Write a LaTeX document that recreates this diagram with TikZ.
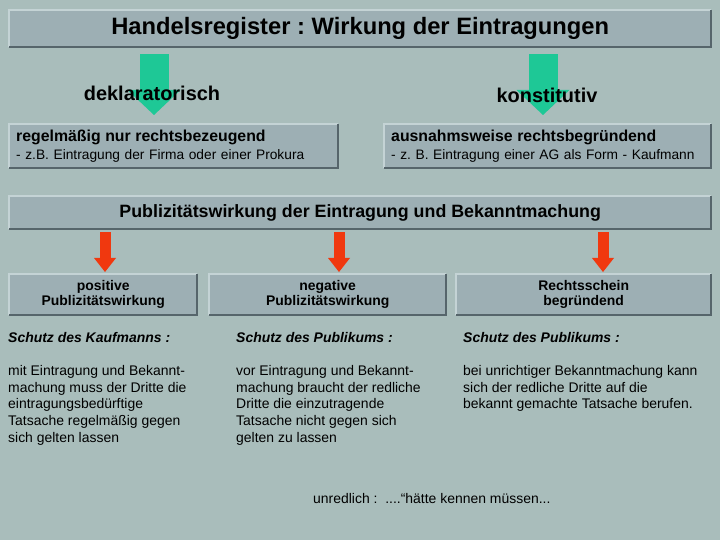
\documentclass[tikz,border=0pt]{standalone}
\usepackage{fontspec}
\setmainfont{Liberation Sans}
\usetikzlibrary{arrows.meta, positioning}
\frenchspacing
\definecolor{bgcol}{HTML}{A9BDBB}
\definecolor{boxcol}{HTML}{9DAFB4}
\definecolor{lightedge}{HTML}{C4D3D5}
\definecolor{darkedge}{HTML}{56656B}
\definecolor{greenarr}{HTML}{1EC896}
\definecolor{redarr}{HTML}{F0380F}

\begin{document}
\begin{tikzpicture}[x=1bp,y=-1bp]
		\tikzset{panel/.style={fill=boxcol, inner sep=0pt, anchor=north west},
			greenarrow/.style={greenarr, line width=29bp, -{Triangle[width=53bp,length=25bp,line width=0pt]}},
			redarrow/.style={redarr, line width=11bp, -{Triangle[width=22bp,length=14bp,line width=0pt]}},
			bodytext/.style={anchor=north west, inner sep=0pt, align=left, font=\fontsize{14}{16.7}\selectfont}}
		
		\fill[bgcol] (0,0) rectangle (720,540);
		\useasboundingbox (0,0) rectangle (720,540);
		
		% boxes
		\node[panel, minimum width=702bp, minimum height=37bp, font=\bfseries\fontsize{23.8}{26}\selectfont] (title) at (9,10) {Handelsregister : Wirkung der Eintragungen};
		
		\node[panel, minimum width=329bp, minimum height=44bp, text width=315bp, inner xsep=7bp, align=left, font=\fontsize{13.8}{19}\selectfont] (regel) at (9,124)
			{{\bfseries\fontsize{15.9}{19}\selectfont regelmäßig nur rechtsbezeugend}\\- z.B. Eintragung der Firma oder einer Prokura};
		\node[panel, minimum width=327bp, minimum height=44bp, text width=313bp, inner xsep=7bp, align=left, font=\fontsize{13.8}{19}\selectfont] (ausn) at (384,124)
			{{\bfseries\fontsize{15.9}{19}\selectfont ausnahmsweise rechtsbegründend}\\- z. B. Eintragung einer AG als Form - Kaufmann};
		
		\node[panel, minimum width=702bp, minimum height=33bp, font=\bfseries\fontsize{17.9}{21}\selectfont] (publ) at (9,196) {Publizitätswirkung der Eintragung und Bekanntmachung};
		
		\node[panel, minimum width=188bp, minimum height=41bp, align=center, font=\bfseries\fontsize{14}{15.5}\selectfont] (pos) at (9,274) {positive\\Publizitätswirkung};
		\node[panel, minimum width=237bp, minimum height=41bp, align=center, font=\bfseries\fontsize{14}{15.5}\selectfont] (neg) at (209,274) {negative\\Publizitätswirkung};
		\node[panel, minimum width=255bp, minimum height=41bp, align=center, font=\bfseries\fontsize{14}{15.5}\selectfont] (rs) at (456,274) {Rechtsschein\\begründend};
		
		\foreach \b in {title,regel,ausn,publ,pos,neg,rs}
		{
			\draw[lightedge, line width=1.5bp] (\b.south west) -- (\b.north west) -- (\b.north east); % light edges top/left
			\draw[darkedge, line width=2bp] (\b.south west) -- (\b.south east) -- (\b.north east); % dark edges bottom/right
		}
		
		% arrows
		\coordinate (gl) at (154,0);
		\coordinate (gr) at (543,0);
		\draw[greenarrow, shorten <=7bp, shorten >=9bp] (title.south -| gl) -- (regel.north -| gl);
		\draw[greenarrow, shorten <=7bp, shorten >=9bp] (title.south -| gr) -- (ausn.north -| gr);
		
		\foreach \x/\b in {105/pos,339/neg,603/rs}
		{
			\draw[redarrow, shorten <=3bp, shorten >=2bp] (publ.south -| \x,0) -- (\b.north -| \x,0);
		}
		
		\node[font=\bfseries\fontsize{20}{22}\selectfont] (dekl) at (152,93) {deklaratorisch};
		\node[font=\bfseries\fontsize{20}{22}\selectfont] (konst) at (547,95) {konstitutiv};
		
		% text below
		\node[bodytext] (t1) at (8,332) {\textbf{\textit{Schutz des Kaufmanns :}}\\[16.7bp]
			mit Eintragung und Bekannt-\\machung muss der Dritte die\\eintragungsbedürftige\\Tatsache regelmäßig gegen\\sich gelten lassen};
		\node[bodytext] (t2) at (236,332) {\textbf{\textit{Schutz des Publikums :}}\\[16.7bp]
			vor Eintragung und Bekannt-\\machung braucht der redliche\\Dritte die einzutragende\\Tatsache nicht gegen sich\\gelten zu lassen};
		\node[bodytext] (t3) at (463,332) {\textbf{\textit{Schutz des Publikums :}}\\[16.7bp]
			bei unrichtiger Bekanntmachung kann\\sich der redliche Dritte auf die\\bekannt gemachte Tatsache berufen.};
		
		\node[bodytext] (unr) at (313,493) {unredlich :\ \ ....“hätte kennen müssen...};
		
\end{tikzpicture}
\end{document}
